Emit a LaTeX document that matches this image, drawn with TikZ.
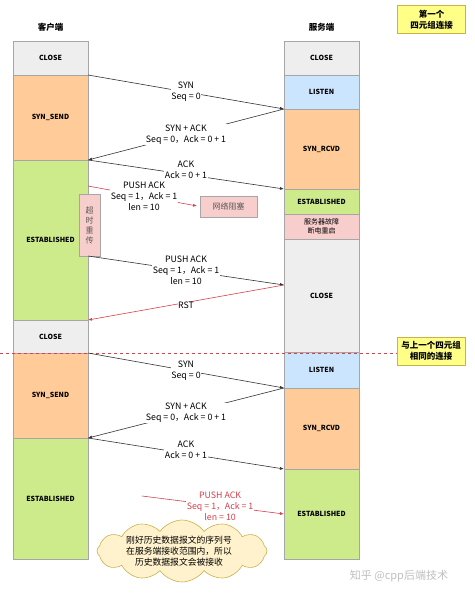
\documentclass[tikz,border=0pt]{standalone}
\usepackage{fontspec}
\setmainfont{Noto Sans CJK SC}
\usepackage[]{xcolor}
\usetikzlibrary{positioning,arrows.meta,shapes.symbols}
\definecolor{closegray}{HTML}{EEEEEE}
\definecolor{peach}{HTML}{FFCC99}
\definecolor{listenblue}{HTML}{CCE5FF}
\definecolor{estgreen}{HTML}{CDEB8B}
\definecolor{faultpink}{HTML}{F8CECC}
\definecolor{noteyellow}{HTML}{FFFF88}
\definecolor{noteedge}{HTML}{C9B24A}
\definecolor{cloudfill}{HTML}{FFF2CC}
\definecolor{linered}{HTML}{D6414B}

\begin{document}
\begin{tikzpicture}[
            x=1pt, y=-1pt,
            node distance=0pt,
            state/.style={rectangle, draw=gray!70, line width=0.6pt, minimum width=75pt, inner sep=0pt, outer sep=0pt, align=center, font=\fontsize{7}{8}\selectfont\bfseries},
            closed/.style={state, fill=closegray},
            synsent/.style={state, fill=peach},
            listen/.style={state, fill=listenblue},
            estab/.style={state, fill=estgreen},
            fault/.style={state, fill=faultpink, font=\fontsize{7}{9}\selectfont},
            side/.style={font=\fontsize{8.5}{10}\selectfont\bfseries},
            note/.style={rectangle, draw=noteedge, fill=noteyellow, line width=0.6pt, minimum width=68pt, minimum height=28pt, inner sep=1pt, align=center, font=\fontsize{8.5}{11}\selectfont\bfseries},
            msg/.style={fill=white, inner sep=0.5pt, align=center, font=\fontsize{8.8}{11}\selectfont},
            arrow/.style={-{Latex[length=4pt,width=3pt]}, line width=0.6pt, draw=black!80},
            redarrow/.style={arrow, draw=linered}
        ]
            \useasboundingbox (0,0) rectangle (474,596);

            \node[side] (client) at (50.5,27) {客户端};
            \node[side] (server) at (321.5,27) {服务端};

            \node[closed, minimum height=34pt] (c1) at (50.5,58) {CLOSE};
            \node[synsent, minimum height=85pt, below=of c1] (c2) {SYN\_SEND};
            \node[estab, minimum height=160pt, below=of c2] (c3) {ESTABLISHED};
            \node[closed, minimum height=33pt, below=of c3] (c4) {CLOSE};
            \node[synsent, minimum height=85pt, below=of c4] (c5) {SYN\_SEND};
            \node[estab, minimum height=121pt, below=of c5] (c6) {ESTABLISHED};

            \node[closed, minimum height=34pt] (s1) at (321.5,58) {CLOSE};
            \node[listen, minimum height=34pt, below=of s1] (s2) {LISTEN};
            \node[synsent, minimum height=80pt, below=of s2] (s3) {SYN\_RCVD};
            \node[estab, minimum height=25pt, below=of s3] (s4) {ESTABLISHED};
            \node[fault, minimum height=25pt, below=of s4] (s5) {服务器故障\\断电重启};
            \node[closed, minimum height=113pt, below=of s5] (s6) {CLOSE};
            \node[listen, minimum height=36pt, below=of s6] (s7) {LISTEN};
            \node[synsent, minimum height=81pt, below=of s7] (s8) {SYN\_RCVD};
            \node[estab, minimum height=90pt, below=of s8] (s9) {ESTABLISHED};

            \node[note] (note1) at (431.5,19.5) {第一个\\四元组连接};
            \node[note] (note2) at (431,351) {与上一个四元组\\相同的连接};

            \node[fault, minimum width=57pt, minimum height=21pt, text=black!65, font=\fontsize{8}{10}\selectfont] (jam) at (228.5,206.5) {网络阻塞};
            \node[fault, minimum width=21pt, minimum height=62pt, text=black!65, font=\fontsize{8}{10}\selectfont] (retx) at (89.5,225) {超\\时\\重\\传};

            \coordinate (p1) at (88,186);
            \coordinate (p2) at (retx.south -| c3.east);
            \coordinate (q2) at ([yshift=-46pt]s6.north west);
            \coordinate (p3) at (142,496);
            \coordinate (d0) at (0,353);

            \draw[arrow] (c1.south east) -- (s2.south west) node[msg, midway] {SYN\\Seq = 0};
            \draw[arrow] (s2.south west) -- (c2.south east) node[msg, midway] {SYN + ACK\\Seq = 0，Ack =  0 + 1};
            \draw[arrow] (c2.south east) -- (s3.south west) node[msg, midway, yshift=5pt] {ACK\\Ack = 0 + 1};
            \draw[redarrow, shorten >=3pt] (p1) -- (jam.west) node[msg, midway] {PUSH ACK\\Seq = 1，Ack = 1\\len = 10};
            \draw[arrow] (p2) -- (q2) node[msg, midway] {PUSH ACK\\Seq = 1，Ack = 1\\len = 10};
            \draw[redarrow] (q2) -- (c3.south east) node[msg, midway, yshift=-3pt] {RST};

            \draw[linered, line width=0.7pt, dash pattern=on 3pt off 3pt] (d0) -- (note2.west |- d0);

            \draw[arrow] (c4.south east) -- (s7.south west) node[msg, midway] {SYN\\Seq = 0};
            \draw[arrow] (s7.south west) -- (c5.south east) node[msg, midway] {SYN + ACK\\Seq = 0，Ack =  0 + 1};
            \draw[arrow] (c5.south east) -- (s8.south west) node[msg, midway, yshift=4pt] {ACK\\Ack = 0 + 1};
            \draw[redarrow] (p3) -- (s9.west) node[msg, pos=0.55, text=linered] {PUSH ACK\\Seq = 1，Ack = 1\\len = 10};

            \node[cloud, cloud puffs=12, cloud puff arc=110, draw=noteedge, fill=cloudfill, line width=0.6pt, minimum width=170pt, minimum height=62pt, inner sep=0pt] (hist) at (182,551) {};
            \node[align=center, inner sep=0pt, font=\fontsize{8.8}{11}\selectfont] (histtext) at ([xshift=-3pt]hist.center) {刚好历史数据报文的序列号\\在服务端接收范围内，所以\\历史数据报文会被接收};

            \node[text=gray!50, font=\fontsize{11}{13}\selectfont] (mark) at (399,576) {知乎 @cpp后端技术};
        \end{tikzpicture}
\end{document}
